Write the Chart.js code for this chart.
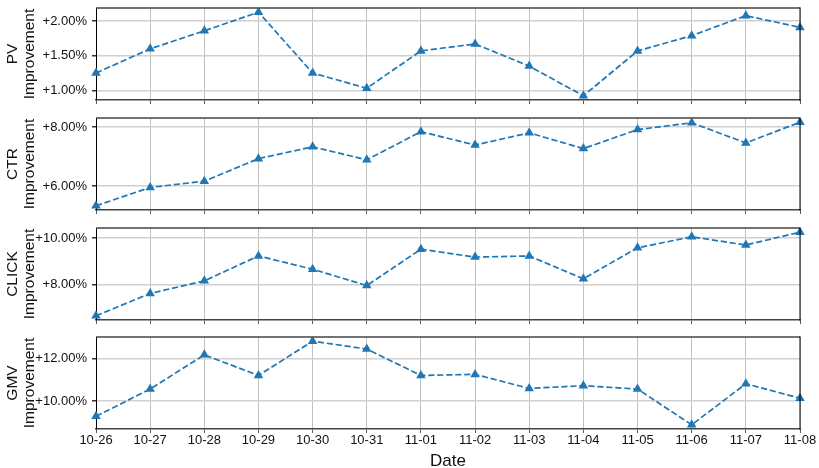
<!DOCTYPE html>
<html><head><meta charset="utf-8">
<script src="https://cdn.jsdelivr.net/npm/chart.js@4.4.1/dist/chart.umd.min.js"></script>
<style>
html,body{margin:0;padding:0;background:#fff;width:819px;height:468px;overflow:hidden;position:relative}
canvas{position:absolute;left:0}
</style></head><body>
<canvas id="c0"></canvas><canvas id="c1"></canvas><canvas id="c2"></canvas><canvas id="c3"></canvas>
<script>
// ---- data ----
const dates = ['10-26','10-27','10-28','10-29','10-30','10-31','11-01','11-02','11-03','11-04','11-05','11-06','11-07','11-08'];
const pv    = [1.25, 1.60, 1.86, 2.13, 1.25, 1.03, 1.57, 1.67, 1.35, 0.92, 1.57, 1.79, 2.08, 1.91];
const ctr   = [5.34, 5.96, 6.17, 6.93, 7.33, 6.89, 7.84, 7.39, 7.80, 7.27, 7.91, 8.14, 7.46, 8.16];
const click = [6.67, 7.63, 8.17, 9.24, 8.67, 7.97, 9.53, 9.19, 9.24, 8.26, 9.59, 10.06, 9.71, 10.26];
const gmv   = [9.28, 10.56, 12.17, 11.20, 12.81, 12.44, 11.20, 11.25, 10.59, 10.72, 10.56, 8.88, 10.81, 10.13];
const pvTicks = [1.0, 1.5, 2.0];
const ctrTicks = [6, 8];
const clickTicks = [8, 10];
const gmvTicks = [10, 12];
const metricNames = ['PV', 'CTR', 'CLICK', 'GMV'];
const xTitle = 'Date';

// ---- layout ----
const FONT = '"Liberation Sans", Arial, Helvetica, sans-serif';
const series = [pv, ctr, click, gmv];
const tickSets = [pvTicks, ctrTicks, clickTicks, gmvTicks];
const panelTop = [8, 118, 228, 337];
const panelH = 92;
const padTop = 14;
const padBottom = 14;

const framePlugin = {
  id: 'frame',
  afterDraw(chart) {
    const {ctx, chartArea: a} = chart;
    ctx.save();
    ctx.strokeStyle = '#444'; ctx.lineWidth = 1.5;
    ctx.beginPath(); ctx.moveTo(a.left, a.top); ctx.lineTo(a.right, a.top); ctx.stroke();
    ctx.strokeStyle = '#000'; ctx.lineWidth = 1;
    ctx.beginPath(); ctx.moveTo(a.right, a.top - 0.75); ctx.lineTo(a.right, a.bottom + 0.75); ctx.stroke();
    ctx.restore();
  }
};

series.forEach((vals, i) => {
  const cv = document.getElementById('c' + i);
  const isLast = i === series.length - 1;
  const xh = isLast ? 468 - (panelTop[i] + panelH) : padBottom;
  cv.width = 819; cv.height = padTop + panelH + xh;
  cv.style.top = (panelTop[i] - padTop) + 'px';
  const lo = Math.min(...vals), hi = Math.max(...vals), m = (hi - lo) * 0.05;
  const tv = tickSets[i];
  new Chart(cv.getContext('2d'), {
    type: 'line',
    data: { labels: dates, datasets: [{
      data: vals,
      borderColor: '#1f77b4', backgroundColor: '#1f77b4',
      borderWidth: 1.7, borderDash: [6.2, 2.8],
      pointStyle: 'triangle', pointRadius: 5.5, pointHoverRadius: 5.5, pointBorderWidth: 0,
      tension: 0, fill: false
    }]},
    options: {
      responsive: false, animation: false, events: [],
      layout: { padding: { top: padTop, right: 19, left: 0, bottom: 0 } },
      plugins: { legend: { display: false }, tooltip: { enabled: false } },
      scales: {
        x: {
          type: 'category', offset: false,
          grid: { color: '#b0b0b0', lineWidth: 0.8, tickColor: '#333', tickLength: 4, drawTicks: true },
          border: { display: true, color: '#444', width: 1.5 },
          ticks: { display: isLast, color: '#111', font: { family: FONT, size: 13 }, padding: 0, maxRotation: 0, autoSkip: false },
          title: { display: isLast, text: xTitle, color: '#111', font: { family: FONT, size: 17, lineHeight: 0.75 }, padding: { top: 0, bottom: 0 } },
          afterFit(s) { s.height = xh; }
        },
        y: {
          min: lo - m, max: hi + m,
          grid: { color: '#d0d0d0', lineWidth: 1.5, tickColor: '#333', tickLength: 4 },
          border: { display: true, color: '#000', width: 1 },
          ticks: { color: '#111', font: { family: FONT, size: 13 }, padding: 5,
            callback: v => '+' + Number(v).toFixed(2) + '%' },
          afterBuildTicks(s) { s.ticks = tv.map(v => ({ value: v })); },
          title: { display: true, text: [metricNames[i], 'Improvement'], color: '#111',
            font: { family: FONT, size: 15.5, lineHeight: 1.05 }, padding: { top: 5, bottom: 0 } },
          afterFit(s) { s.width = 96; }
        }
      }
    },
    plugins: [framePlugin]
  });
});
</script>
</body></html>
